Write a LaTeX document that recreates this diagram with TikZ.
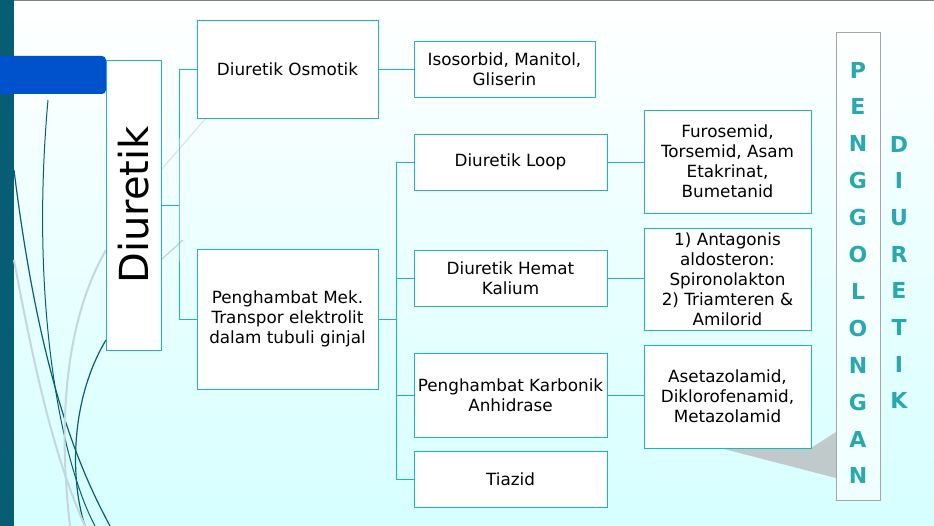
\documentclass[tikz,border=0pt]{standalone}
\usepackage{fontspec}
\setmainfont{DejaVu Sans}
\definecolor{bord}{HTML}{1CB5C0}
\definecolor{darkt}{HTML}{075E74}
\definecolor{lett}{HTML}{2AA8B0}
\begin{document}
\begin{tikzpicture}[x=1pt,y=-1pt,
  bx/.style={draw=bord, line width=0.9pt, fill=white, align=center, font=\fontsize{16.8}{20}\selectfont, inner sep=1pt},
  ln/.style={draw=bord, line width=0.9pt},
  let/.style={font=\fontsize{22}{22}\selectfont\bfseries, text=lett, draw=none}]
\useasboundingbox (0,0) rectangle (934,526);
\shade[top color=white, bottom color=cyan!16] (0,0) rectangle (934,526);
\draw[gray, line width=1.5pt] (0,0.5) -- (934,0.5);
\fill[darkt] (0,0) rectangle (14,526);
% decorative curves
\draw[darkt, line width=1.2pt] (14,170) .. controls (40,380) and (80,470) .. (110,526);
\draw[darkt, line width=1pt] (48,100) .. controls (30,300) and (60,460) .. (95,526);
\draw[darkt, line width=1.2pt] (106,340) .. controls (70,400) and (70,480) .. (85,526);
\draw[cyan!30!gray!40, line width=2pt] (14,260) .. controls (40,400) and (60,470) .. (85,526);
\draw[cyan!30!gray!40, line width=2pt] (106,250) .. controls (60,330) and (60,440) .. (70,526);
\draw[cyan!20!gray!30, line width=1pt] (161,170) -- (206,118);
\draw[cyan!30!gray!50, line width=1pt] (161,260) -- (183,240);
\fill[blue!60!cyan!80!black, rounded corners=4pt] (-10,56) rectangle (106,94);
% shadow
\fill[gray!55, opacity=0.75] (720,448) -- (811,448) -- (836,432) -- (836,478) -- cycle;
% nodes
\node[bx, minimum width=55, minimum height=290] (d) at (133.5,205) {};
\node[rotate=90, font=\fontsize{40}{40}\selectfont] (dt) at (d.center) {Diuretik};
\node[bx, minimum width=181, minimum height=98] (os) at (287.5,69) {Diuretik Osmotik};
\node[bx, minimum width=181, minimum height=140] (pm) at (287.5,319) {Penghambat Mek.\\Transpor elektrolit\\dalam tubuli ginjal};
\node[bx, minimum width=181, minimum height=56] (is) at (504.5,69) {Isosorbid, Manitol,\\Gliserin};
\node[bx, minimum width=193, minimum height=56] (lp) at (510.5,162) {Diuretik Loop};
\node[bx, minimum width=193, minimum height=56] (hk) at (510.5,278) {Diuretik Hemat\\Kalium};
\node[bx, minimum width=193, minimum height=84] (ka) at (510.5,395) {Penghambat Karbonik\\Anhidrase};
\node[bx, minimum width=193, minimum height=56] (tz) at (510.5,479) {Tiazid};
\node[bx, minimum width=167, minimum height=103] (fu) at (727.5,161.5) {Furosemid,\\Torsemid, Asam\\Etakrinat,\\Bumetanid};
\node[bx, minimum width=167, minimum height=102] (an) at (727.5,279) {1) Antagonis\\aldosteron:\\Spironolakton\\2) Triamteren \&\\Amilorid};
\node[bx, minimum width=167, minimum height=103] (as) at (727.5,396.5) {Asetazolamid,\\Diklorofenamid,\\Metazolamid};
% connectors
\coordinate (j1) at (179,205);
\draw[ln] (d.east |- j1) -- (j1);
\draw[ln] (os.west) -| (j1) |- (pm.west);
\coordinate (j2) at (396,319);
\draw[ln] (pm.east) -- (j2);
\draw[ln] (lp.west) -| (j2);
\draw[ln] (j2) |- (tz.west);
\draw[ln] (hk.west) -| (j2);
\draw[ln] (ka.west) -| (j2);
\draw[ln] (os.east) -- (is.west);
\draw[ln] (lp.east) -- (fu.west |- lp.east);
\draw[ln] (hk.east) -- (an.west |- hk.east);
\draw[ln] (ka.east) -- (as.west |- ka.east);
% right box
\node[draw=gray!70, line width=1pt, fill=white, fill opacity=0.6, minimum width=44, minimum height=467] (rb) at (858,266.5) {};
\foreach \c [count=\i] in {P,E,N,G,G,O,L,O,N,G,A,N}
  \node[let] (l\i) at (858,70+36.9*\i-36.9) {\c};
\foreach \c [count=\i] in {D,I,U,R,E,T,I,K}
  \node[let] (r\i) at (899,144+36.7*\i-36.7) {\c};
\end{tikzpicture}
\end{document}
